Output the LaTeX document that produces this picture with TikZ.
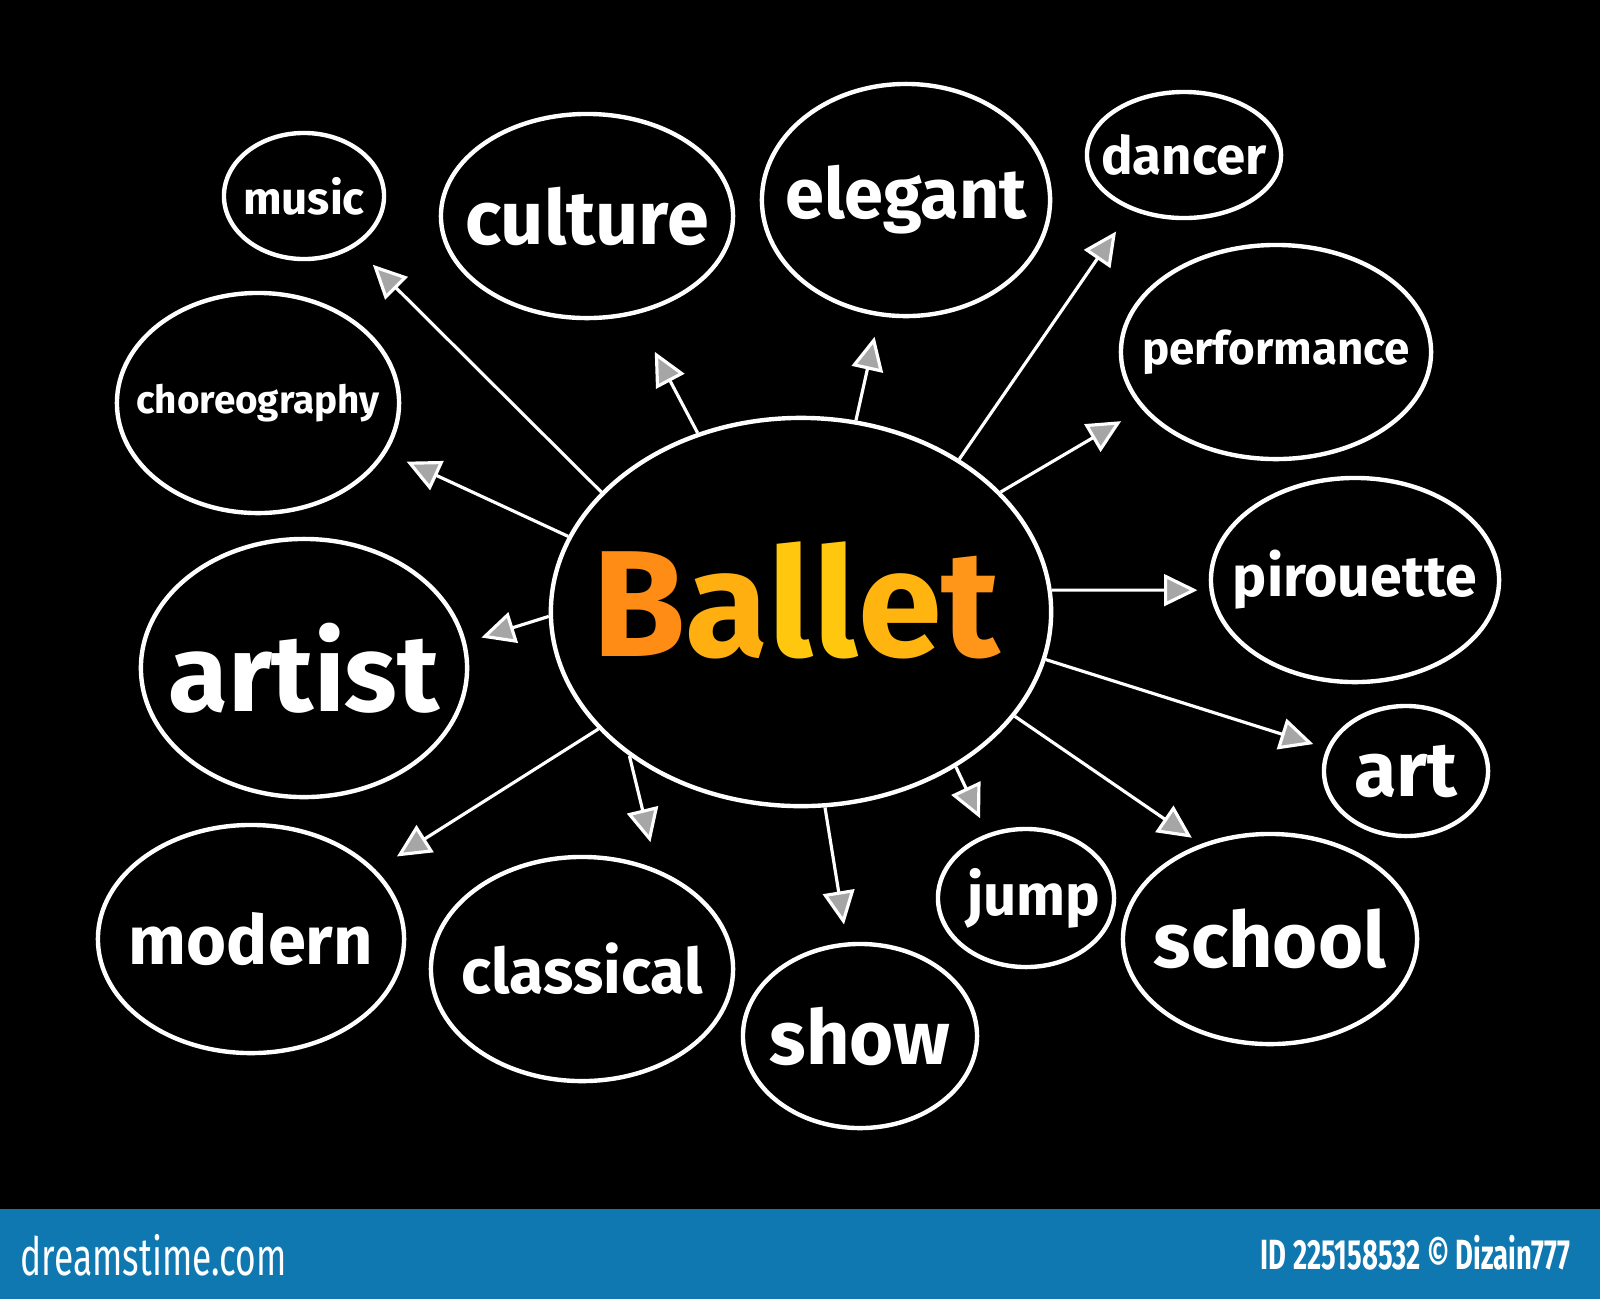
\documentclass[tikz,border=0pt]{standalone}
\usepackage{fontspec}
\setmainfont{Fira Sans}
\usetikzlibrary{shapes.geometric,arrows.meta}
\definecolor{barblue}{RGB}{16,120,176}
\definecolor{balA}{RGB}{255,140,20}
\definecolor{balB}{RGB}{255,175,15}
\definecolor{balC}{RGB}{255,200,15}
\definecolor{balD}{RGB}{255,180,15}
\definecolor{balE}{RGB}{255,150,25}

\begin{document}
\begin{tikzpicture}[x=0.01cm,y=-0.01cm,
  bub/.style={ellipse,draw=white,line width=1.25pt,inner sep=0pt},
  txt/.style={text=white,font=\bfseries\fontsize{#1}{#1}\selectfont},
  arr/.style={white,line width=0.9pt,-{Triangle[length=9.5pt,width=9pt,fill=white!65!black]}}]
\useasboundingbox (0,0) rectangle (1600,1299);
\path [draw=none,fill=black] (0,0) rectangle (1600,1209);
\path [draw=none,fill=barblue] (0,1209) rectangle (1600,1299);

% centre
\node[bub,minimum width=5cm,minimum height=3.88cm,
  label={[txt=43,yshift=0.12cm,xshift=-0.05cm]center:\textcolor{balA}{B}\textcolor{balB}{a}\textcolor{balC}{ll}\textcolor{balD}{e}\textcolor{balE}{t}}] (ballet) at (801,612) {};

% topics
\node[bub,minimum width=1.6cm,minimum height=1.26cm,label={[txt=13]center:music}] (music) at (304,196) {};
\node[bub,minimum width=2.92cm,minimum height=2.04cm,label={[txt=21.5]center:culture}] (culture) at (587,216) {};
\node[bub,minimum width=2.88cm,minimum height=2.32cm,label={[txt=20]center:elegant}] (elegant) at (906,200) {};
\node[bub,minimum width=1.94cm,minimum height=1.26cm,label={[txt=15]center:dancer}] (dancer) at (1184,155) {};
\node[bub,minimum width=3.1cm,minimum height=2.14cm,label={[txt=13]center:performance}] (perf) at (1276,352) {};
\node[bub,minimum width=2.82cm,minimum height=2.2cm,label={[txt=11]center:choreography}] (chor) at (258,403) {};
\node[bub,minimum width=2.88cm,minimum height=2.04cm,label={[txt=16.3]center:pirouette}] (pirou) at (1355,580) {};
\node[bub,minimum width=3.26cm,minimum height=2.58cm,label={[txt=31]center:artist}] (artist) at (304,668) {};
\node[bub,minimum width=1.64cm,minimum height=1.3cm,label={[txt=22]center:art}] (art) at (1406,771) {};
\node[bub,minimum width=3.06cm,minimum height=2.28cm,label={[txt=19.5]center:modern}] (modern) at (251,939) {};
\node[bub,minimum width=3.02cm,minimum height=2.24cm,label={[txt=17.8]center:classical}] (classic) at (582,969) {};
\node[bub,minimum width=2.34cm,minimum height=1.84cm,label={[txt=21.5]center:show}] (show) at (860,1036) {};
\node[bub,minimum width=1.76cm,minimum height=1.38cm,label={[txt=16.5,xshift=0.08cm]center:jump}] (jump) at (1026,898) {};
\node[bub,minimum width=2.94cm,minimum height=2.1cm,label={[txt=22]center:school}] (school) at (1270,939) {};

% arrows
\draw [arr,shorten >=0.25cm] (ballet.149) -- (music.315);
\draw [arr,shorten >=0.42cm] (ballet.120) -- (culture.296);
\draw [arr,shorten >=0.21cm] (ballet.74) -- (elegant.257);
\draw [arr,shorten >=0.26cm] (ballet.44) -- (dancer.226);
\draw [arr,shorten >=0.24cm] (ballet.31) -- (perf.203);
\draw [arr,shorten >=0.22cm] (ballet.162) -- (chor.339);
\draw [arr,shorten >=0.12cm] (ballet.5) -- (pirou.184);
\draw [arr,shorten >=0.16cm] (ballet.181) -- (artist.9);
\draw [arr,shorten >=0.14cm] (ballet.349) -- (art.164);
\draw [arr,shorten >=0.25cm] (ballet.210) -- (modern.29);
\draw [arr,shorten >=0.28cm] (ballet.220) -- (classic.53);
\draw [arr,shorten >=0.18cm] (ballet.277) -- (show.98);
\draw [arr,shorten >=0.17cm] (ballet.315) -- (jump.121);
\draw [arr,shorten >=0.11cm] (ballet.334) -- (school.126);

% footer
\node[text=white,inner sep=0pt,font=\fontsize{15}{15}\selectfont,anchor=west] (site) at (20,1255) {\scalebox{0.67}[1]{dreamstime.com}};
\node[text=white,inner sep=0pt,font=\bfseries\fontsize{12}{12}\selectfont,anchor=east] (credit) at (1571,1253) {\scalebox{0.65}[1]{ID 225158532 © Dizain777}};

\end{tikzpicture}
\end{document}
